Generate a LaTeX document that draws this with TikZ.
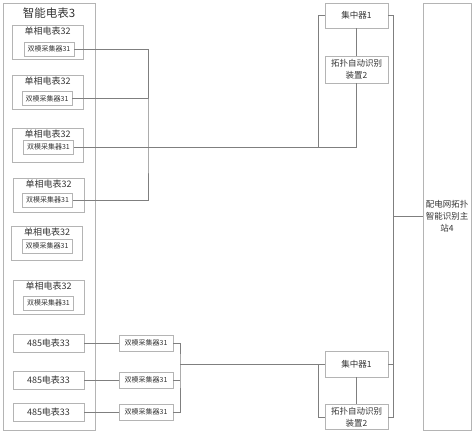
\documentclass[tikz,border=0pt]{standalone}
\usepackage{fontspec}
\setmainfont{Noto Sans CJK SC}
\usepackage{tikz}
\usepackage{xcolor}
\definecolor{linegray}{HTML}{7F7F7F}
\definecolor{boxgray}{HTML}{B4B4B4}
\definecolor{textgray}{HTML}{333333}

\begin{document}
\begin{tikzpicture}[x = 1pt, y = -1pt,
        frame/.style = {draw = boxgray, line width = 0.9pt, inner sep = 0pt},
        meterbox/.style = {frame, minimum width = 71pt, minimum height = 34pt},
        metertext/.style = {text = textgray, font = \fontsize{9}{10}\selectfont, inner sep = 0pt},
        collbox/.style = {frame, text = textgray, font = \fontsize{7}{8}\selectfont,
            minimum width = 50pt, minimum height = 14pt},
        rsbox/.style = {frame, text = textgray, font = \fontsize{9}{10}\selectfont,
            minimum width = 71pt, minimum height = 18pt},
        conbox/.style = {frame, text = textgray, font = \fontsize{8.5}{12}\selectfont,
            align = center, minimum width = 63pt, minimum height = 26pt},
        wire/.style = {draw = linegray, line width = 1pt}]
        \useasboundingbox (0,0) rectangle (474,434);

        % smart meters
        \node[frame, minimum width = 92pt, minimum height = 427pt] (meters) at (49,216.5) {};
        \node[text = textgray, font = \fontsize{11.5}{12}\selectfont, inner sep = 0pt] (meterstitle) at (49,13) {智能电表3};

        \node[meterbox] (m1) at (47.5,42) {};
        \node[metertext] (m1t) at (47.5,31) {单相电表32};
        \node[collbox] (c1) at (49,49) {双模采集器31};

        \node[meterbox] (m2) at (47.5,92.5) {};
        \node[metertext] (m2t) at (47.5,81) {单相电表32};
        \node[collbox] (c2) at (47,98.5) {双模采集器31};

        \node[meterbox] (m3) at (47.5,145.5) {};
        \node[metertext] (m3t) at (47.5,134) {单相电表32};
        \node[collbox] (c3) at (48.5,147) {双模采集器31};

        \node[meterbox] (m4) at (48.5,195) {};
        \node[metertext] (m4t) at (48.5,184) {单相电表32};
        \node[collbox] (c4) at (47.5,200) {双模采集器31};

        \node[meterbox] (m5) at (47,243.5) {};
        \node[metertext] (m5t) at (47,232) {单相电表32};
        \node[collbox] (c5) at (47,246) {双模采集器31};

        \node[meterbox] (m6) at (48.5,297.5) {};
        \node[metertext] (m6t) at (48.5,286) {单相电表32};
        \node[collbox] (c6) at (48.5,303) {双模采集器31};

        \node[rsbox] (r1) at (48.5,343) {485电表33};
        \node[rsbox] (r2) at (48.5,380) {485电表33};
        \node[rsbox] (r3) at (48.5,412) {485电表33};

        \node[collbox, minimum width = 54pt, minimum height = 16pt] (d1) at (146,343) {双模采集器31};
        \node[collbox, minimum width = 54pt, minimum height = 16pt] (d2) at (146,380) {双模采集器31};
        \node[collbox, minimum width = 54pt, minimum height = 16pt] (d3) at (146,412) {双模采集器31};

        % concentrators and topology devices
        \node[conbox, minimum height = 25pt] (uc) at (356.5,15.5) {集中器1};
        \node[conbox, minimum height = 27pt] (ud) at (356.5,69.5) {拓扑自动识别\\装置2};
        \node[conbox] (lc) at (356.5,364) {集中器1};
        \node[conbox, minimum height = 25pt] (ld) at (356.5,417) {拓扑自动识别\\装置2};

        % master station
        \node[frame, minimum width = 48pt, minimum height = 427pt] (ms) at (447,216.5) {};
        \node[text = textgray, font = \fontsize{8.5}{12}\selectfont, align = center, inner sep = 0pt]
            (mst) at (447,216) {配电网拓扑\\智能识别主\\站4};

        \coordinate (busu) at (148,147);
        \coordinate (busl) at (180,364);
        \coordinate (ju) at (318,147);
        \coordinate (jm) at (356.5,147);
        \coordinate (jl) at (318,364);
        \coordinate (rb) at (393,417);

        % wires
        \draw[wire] (c1.east) -| (busu) |- (c4.east);
        \draw[wire] (c2.east) -- (c2.east -| busu);
        \draw[wire] (c3.east) -- (jm);
        \draw[wire] (uc.west) -| (ju);
        \draw[wire] (uc.south) -- (ud.north);
        \draw[wire] (ud.south) -- (jm);
        \draw[wire] (uc.east) -| (rb) -- (ld.east);
        \draw[wire] (ms.west -| rb) -- (ms.west);
        \draw[wire] (lc.east) -- (lc.east -| rb);

        \draw[wire] (r1.east) -- (d1.west);
        \draw[wire] (r2.east) -- (d2.west);
        \draw[wire] (r3.east) -- (d3.west);
        \draw[wire] (d1.east) -| (busl) |- (d3.east);
        \draw[wire] (d2.east) -- (d2.east -| busl);
        \draw[wire] (busl) -- (lc.west);
        \draw[wire] (jl) |- (ld.west);
        \draw[wire] (lc.south) -- (ld.north);
    \end{tikzpicture}
\end{document}
